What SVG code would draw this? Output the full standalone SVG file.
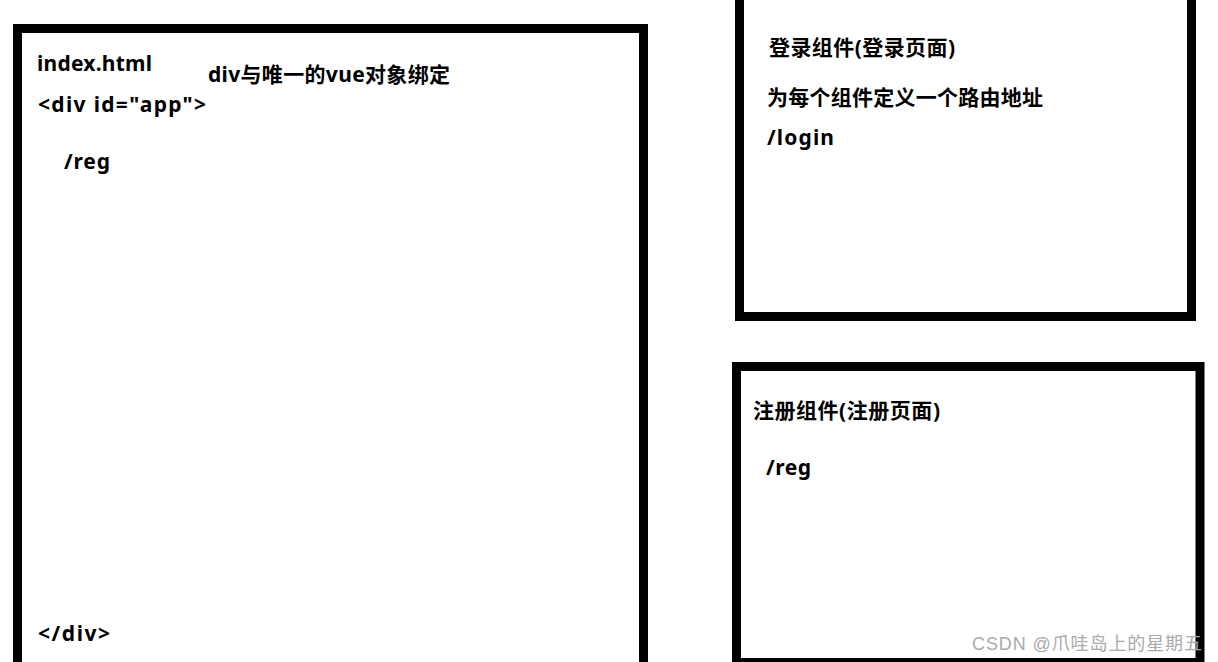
<svg xmlns="http://www.w3.org/2000/svg" width="1218" height="662" viewBox="0 0 1218 662">
<style>
.box{fill:#fff;stroke:#000;stroke-width:9}
.t{font-family:"Noto Sans","Noto Sans CJK SC",sans-serif;font-weight:bold;font-size:21px;fill:#000}
.wm{font-family:"Liberation Sans","Noto Sans CJK SC",sans-serif;font-size:18px;fill:#aaa}
</style>
<rect width="1218" height="662" fill="#fff"/>
<g id="index-html">
<rect class="box" x="17.5" y="28.5" width="626" height="640"/>
<text class="t" x="37" y="71" textLength="115">index.html</text>
<text class="t" x="208" y="82" textLength="242">div与唯一的vue对象绑定</text>
<text class="t" x="38" y="112" textLength="168">&lt;div id="app"&gt;</text>
<text class="t" x="64" y="169" textLength="46">/reg</text>
<text class="t" x="38" y="641" textLength="72">&lt;/div&gt;</text>
</g>
<g id="login-component">
<rect class="box" x="739.5" y="-5" width="452" height="321.5"/>
<text class="t" x="769" y="55" textLength="186">登录组件(登录页面)</text>
<text class="t" x="767" y="105" textLength="276">为每个组件定义一个路由地址</text>
<text class="t" x="767" y="145" textLength="67">/login</text>
</g>
<g id="register-component">
<rect class="box" x="736.5" y="366.5" width="463.5" height="296"/>
<text class="t" x="753" y="418" textLength="187">注册组件(注册页面)</text>
<text class="t" x="766" y="475" textLength="45">/reg</text>
</g>
<g id="connectors"/>
<text class="wm" x="972" y="650" textLength="230">CSDN @爪哇岛上的星期五</text>
</svg>
